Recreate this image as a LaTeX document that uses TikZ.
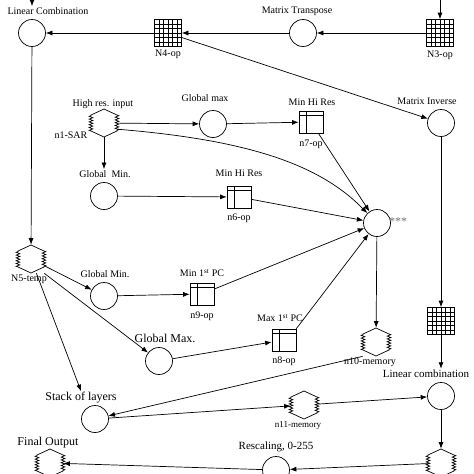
\documentclass[tikz,border=0pt]{standalone}
\usepackage{fontspec}
\setmainfont{Liberation Serif}
\usetikzlibrary{arrows.meta, decorations.pathmorphing}

\tikzset{
  proc/.style = {draw, circle, minimum size=27pt, inner sep=0pt},
  gridop/.style = {draw, rectangle, minimum size=27pt, inner sep=0pt,
    path picture={
      \foreach \k in {1,...,5}{
        \draw ([xshift=\k*4.5pt]path picture bounding box.north west) -- ([xshift=\k*4.5pt]path picture bounding box.south west);
        \draw ([yshift=-\k*4.5pt]path picture bounding box.north west) -- ([yshift=-\k*4.5pt]path picture bounding box.north east);
      }}},
  opbox/.style = {draw, rectangle, minimum width=24pt, minimum height=22pt, inner sep=0pt,
    path picture={
      \draw ([yshift=-4pt]path picture bounding box.north west) -- ([yshift=-4pt]path picture bounding box.north east);
      \draw ([xshift=7pt]path picture bounding box.north west) -- ([xshift=7pt]path picture bounding box.south west);
    }},
  memhex/.style = {rectangle, minimum width=26pt, minimum height=28pt, inner sep=0pt},
  txt/.style = {inner sep=1pt, font=\fontsize{10}{12}\selectfont},
  bigtxt/.style = {inner sep=1pt, font=\fontsize{12}{14}\selectfont},
  midtxt/.style = {inner sep=1pt, font=\fontsize{11}{13}\selectfont},
  spring/.style = {decoration={zigzag, segment length=2.8pt, amplitude=1.8pt}},
  arr/.style = {-{Latex[length=6.5pt,width=5pt]}},
}

\begin{document}
\begin{tikzpicture}[x=1pt, y=-1pt, line width=0.7pt]
\useasboundingbox (0,0) rectangle (474,474);

% circles
\node[proc] (lc1)   at (32,33)   {};
\node[proc] (mt)    at (303,33)  {};
\node[proc] (mi)    at (441,123) {};
\node[proc] (gmax)  at (213,124) {};
\node[proc] (gmin)  at (104,196) {};
\node[proc] (star)  at (377,223) {};
\node[proc] (gminb) at (104,296) {};
\node[proc] (gmaxb) at (159,361) {};
\node[proc] (stack) at (95,419)  {};
\node[proc] (lc2)   at (441,396) {};
\node[proc] (resc)  at (276,470) {};

% matrix ops
\node[gridop] (n4) at (168,33)  {};
\node[gridop] (n3) at (440,33)  {};
\node[gridop] (gr) at (441,321) {};

% table ops
\node[opbox] (n7) at (311,122) {};
\node[opbox] (n6) at (239,197) {};
\node[opbox] (n9) at (202,294) {};
\node[opbox] (n8) at (284,340) {};

% memory hexagons
\node[memhex] (n1)  at (104,123) {};
\node[memhex] (n5)  at (31,259)  {};
\node[memhex] (n10) at (376,342) {};
\node[memhex] (n11) at (304,405) {};
\node[memhex] (hx)  at (441,463) {};
\node[memhex] (fo)  at (50,463)  {};
\foreach \h in {n1,n5,n10,n11,hx,fo}
  \draw[shift={(\h)}] (0,-14) -- (13,-8) decorate[spring]{-- (13,8)} -- (0,14) -- (-13,8) decorate[spring]{-- (-13,-8)} -- cycle;

% labels
\node[txt] (lc1txt)   at (48,11)   {Linear Combination};
\node[txt] (mttxt)    at (297,11)  {Matrix Transpose};
\node[txt] (n4txt)    at (168,54)  {N4-op};
\node[txt] (n3txt)    at (440,55)  {N3-op};
\node[txt] (mitxt)    at (427,101) {Matrix Inverse};
\node[txt] (n1txt)    at (103,104) {High res. input};
\node[txt] (sartxt)   at (71,135)  {n1-SAR};
\node[txt] (gmaxtxt)  at (205,98)  {Global max};
\node[txt] (n7top)    at (312,102) {Min Hi Res};
\node[txt] (n7txt)    at (311,144) {n7-op};
\node[txt] (gmintxt)  at (105,174) {Global\ \ Min.};
\node[txt] (n6top)    at (239,173) {Min Hi Res};
\node[txt] (n6txt)    at (239,218) {n6-op};
\node[inner sep=1pt, font=\fontsize{12}{14}\selectfont, text=black!55] (startxt) at (398,222) {***};
\node[txt] (n5txt)    at (29,279)  {N5-temp};
\node[txt] (gminbtxt) at (105,274) {Global Min.};
\node[txt] (n9top)    at (202,273) {Min 1\textsuperscript{st} PC};
\node[txt] (n9txt)    at (202,316) {n9-op};
\node[bigtxt] (gmaxbtxt) at (165,338) {Global Max.};
\node[txt] (n8top)    at (280,318) {Max 1\textsuperscript{st} PC};
\node[txt] (n8txt)    at (284,361) {n8-op};
\node[bigtxt] (stacktxt) at (81,398) {Stack of layers};
\node[txt] (n10txt)   at (370,362) {n10-memory};
\node[txt, font=\fontsize{9}{11}\selectfont] (n11txt) at (298,425) {n11-memory};
\node[midtxt] (lc2txt) at (426,374) {Linear combination};
\node[midtxt] (resctxt) at (276,447) {Rescaling, 0-255};
\node[bigtxt] (fotxt) at (48,443) {Final Output};

\coordinate (in1) at (32,-6);
\coordinate (in3) at (440,-6);

% top row
\draw[arr] (in1) -- (in1 |- lc1txt.north);
\draw[arr] (in3) -- (n3);
\draw[arr] (n3) -- (mt);
\draw[arr] (mt) -- (n4);
\draw[arr] (n4) -- (lc1);
\draw[arr] (n4) -- (mi);
\draw[arr] (mi) -- (gr);
\draw[arr] (gr) -- (gr.south |- lc2txt.north);
\draw[arr] (lc2) -- (hx);
\draw[arr] (hx) -- (resc);
\draw[arr] (resc) -- (fo);
\draw[arr] (lc1) -- (n5);

% high res branch
\draw[arr] (n1) -- (gmax);
\draw[arr] (gmax) -- (n7);
\draw[arr] (n1.-25) .. controls (250,140) and (320,165) .. (star);
\draw[arr] (n1) -- (n1 |- gmintxt.north);
\draw[arr] (gmin) -- (n6);
\draw[arr] (n6) -- (star);
\draw[arr] (n7) -- (star);

% first PC branch
\draw[arr] (n5) -- (gminb);
\draw[arr] (gminb) -- (n9);
\draw[arr] (n9) -- (star);
\draw[arr] (n5.south east) -- (gmaxb);
\draw[arr] (gmaxb) -- (n8);
\draw[arr] (n8.north east) -- (star);
\draw[arr] (n5) -- (stacktxt.north);

% memory
\draw[arr] (star) -- (n10);
\draw[arr] (n10.south west) -- (stack);
\draw[arr] (stack) -- (n11);
\draw[arr] (n11) -- (lc2);
\end{tikzpicture}
\end{document}
